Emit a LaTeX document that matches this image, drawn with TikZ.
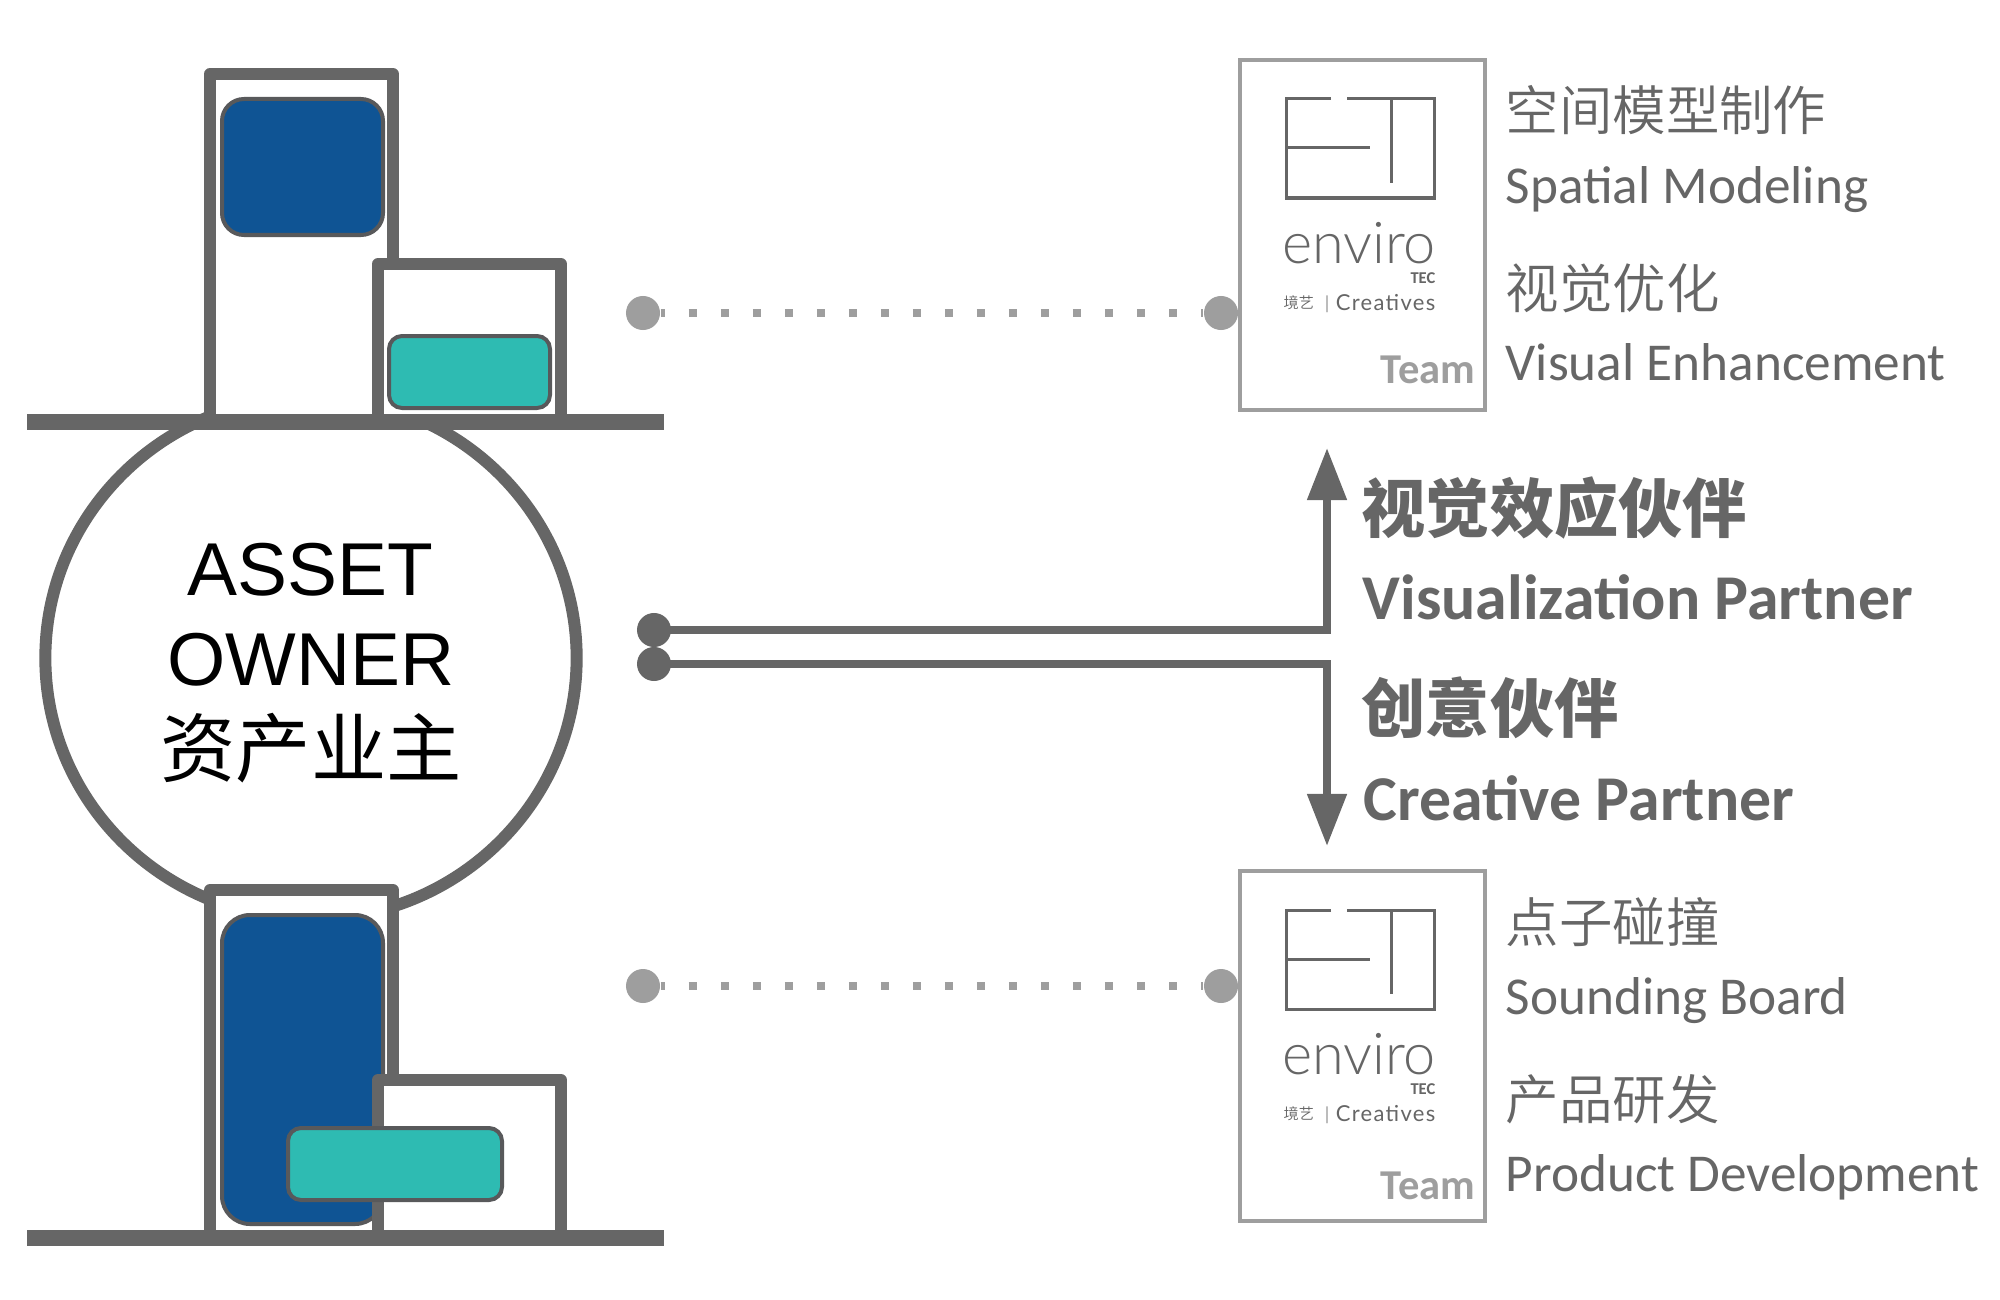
\documentclass[tikz,border=0pt]{standalone}
\usepackage{fontspec}
\setmainfont{Carlito}
\newfontfamily\cjk{Noto Sans CJK SC}
\newfontfamily\cjklight{Noto Sans CJK SC DemiLight}
\newfontfamily\arialfont{Liberation Sans}
\newfontfamily\logofont{Lato Light}
\newfontfamily\logotag[LetterSpace=6]{Lato}
\usetikzlibrary{arrows.meta}
\definecolor{ink}{HTML}{666666}
\definecolor{edge}{HTML}{58595B}
\definecolor{lightink}{HTML}{9E9E9E}
\definecolor{navy}{HTML}{0F5494}
\definecolor{aqua}{HTML}{2EBBB2}
\tikzset{>={Triangle[length=0.52cm,width=0.38cm]}}
\tikzset{
  tower/.style={draw=ink, fill=white, line width=0.12cm, line join=round},
  floorline/.style={draw=ink, line width=0.16cm},
  bluepanel/.style={draw=edge, fill=navy, line width=0.04cm},
  aquapanel/.style={draw=edge, fill=aqua, line width=0.04cm, rounded corners=0.13cm},
  greydot/.style={circle, fill=lightink, inner sep=0pt, minimum size=0.34cm},
  darkdot/.style={circle, fill=ink, inner sep=0pt, minimum size=0.34cm},
  dotline/.style={draw=lightink, line width=0.08cm, dash pattern=on 0.08cm off 0.24cm, dash phase=0.04cm},
  partner/.style={draw=ink, line width=0.08cm, ->},
  teambox/.style={draw=lightink, fill=white, line width=0.04cm},
  logoline/.style={draw=ink, line width=0.03cm},
  zhtext/.style={anchor=base west, inner sep=0pt, text=ink, font=\cjklight\fontsize{15.2pt}{16pt}\selectfont},
  entext/.style={anchor=base west, inner sep=0pt, text=ink, font=\fontsize{15.15pt}{17pt}\selectfont},
  zhbold/.style={anchor=base west, inner sep=0pt, text=ink, font=\cjk\bfseries\fontsize{18.25pt}{20pt}\selectfont},
  enbold/.style={anchor=base west, inner sep=0pt, text=ink, font=\bfseries\fontsize{18.15pt}{20pt}\selectfont},
  ownertext/.style={anchor=base, inner sep=0pt, text=black, font=\arialfont\fontsize{21.3pt}{24pt}\selectfont},
}
\begin{document}
\begin{tikzpicture}[x=0.01cm, y=-0.01cm]
    \useasboundingbox (0,0) rectangle (2000,1300);
    % owner circle
    \draw[draw=ink, line width=0.12cm] (311,658) ellipse (2.655cm and 2.61cm);
    \node[ownertext] (ownerA) at (310,595) {ASSET};
    \node[ownertext] (ownerB) at (311,685) {OWNER};
    \node[ownertext, font=\cjk\fontsize{21.4pt}{24pt}\selectfont] (ownerC) at (311,776) {资产业主};
    % top block
    \draw[tower] (210,422) |- (393,74) -- (393,422);
    \draw[bluepanel, rounded corners=0.22cm] (222,99) rectangle (383,235);
    \draw[tower] (378,422) |- (561,264) -- (561,422);
    \draw[aquapanel] (389,336) rectangle (550,408);
    \draw[floorline] (27,422) -- (664,422);
    % bottom block
    \draw[tower] (210,1238) |- (393,890) -- (393,1238);
    \draw[bluepanel, rounded corners=0.28cm] (222,915) rectangle (383,1224);
    \draw[tower] (378,1238) |- (561,1080) -- (561,1238);
    \draw[aquapanel] (288,1128) rectangle (502,1200);
    \draw[floorline] (27,1238) -- (664,1238);
    % dotted links
    \node[greydot] (dotTopL) at (643,313) {};
    \node[greydot] (dotTopR) at (1221,313) {};
    \draw[dotline] (dotTopL) -- (dotTopR);
    \node[greydot] (dotBotL) at (643,986) {};
    \node[greydot] (dotBotR) at (1221,986) {};
    \draw[dotline] (dotBotL) -- (dotBotR);
    % partner arrows
    \node[darkdot] (dotVis) at (654,630) {};
    \node[darkdot] (dotCre) at (654,664) {};
    \coordinate (tipVis) at (1327,448);
    \coordinate (tipCre) at (1327,846);
    \draw[partner] (dotVis.center) -| (tipVis);
    \draw[partner] (dotCre.center) -| (tipCre);
    \node[zhbold] (visZh) at (1361,532) {视觉效应伙伴};
    \node[enbold] (visEn) at (1362,619) {Visualization Partner};
    \node[zhbold] (creZh) at (1361,732) {创意伙伴};
    \node[enbold] (creEn) at (1363,820) {Creative Partner};
    % team boxes
    \foreach \dy/\tag/\dt in {0/A/0, 811/B/5} {
        \begin{scope}[yshift=-\dy*0.01cm]
            \node[teambox, minimum width=2.45cm, minimum height=3.5cm] (box\tag) at (1362.5,235) {};
            \draw[logoline] (1331,99) -- (1286,99) -- (1286,198) -- (1434,198) -- (1434,99) -- (1347,99);
            \draw[logoline] (1286,148) -- (1370,148);
            \draw[logoline] (1391,99) -- (1391,183);
            \node[anchor=base, inner sep=0pt, text=ink, font=\logofont\fontsize{16.4pt}{18pt}\selectfont] (enviro\tag) at (1359,263) {enviro};
            \node[anchor=base east, inner sep=0pt, text=ink, font=\bfseries\fontsize{4.7pt}{5pt}\selectfont] (tec\tag) at (1436,283) {TEC};
            \node[anchor=base west, inner sep=0pt, text=ink, font=\cjklight\fontsize{4.3pt}{5pt}\selectfont] (logoZh\tag) at (1283,308) {境艺\hspace{3.2pt}|};
            \node[anchor=base east, inner sep=0pt, text=ink, font=\logotag\fontsize{6.25pt}{7pt}\selectfont] (creatives\tag) at (1436,310) {Creatives};
            \node[anchor=base east, inner sep=0pt, text=lightink, font=\bfseries\fontsize{12.1pt}{13pt}\selectfont] (team\tag) at (1476,383+\dt) {Team};
        \end{scope}
    }
    % team tasks
    \node[zhtext] (taskA) at (1505,131) {空间模型制作};
    \node[entext] (taskAen) at (1505,204) {Spatial Modeling};
    \node[zhtext] (taskB) at (1505,308) {视觉优化};
    \node[entext] (taskBen) at (1505,380) {Visual Enhancement};
    \node[zhtext] (taskC) at (1505,942) {点子碰撞};
    \node[entext] (taskCen) at (1505,1014) {Sounding Board};
    \node[zhtext] (taskD) at (1505,1119) {产品研发};
    \node[entext] (taskDen) at (1505,1191) {Product Development};
\end{tikzpicture}
\end{document}
